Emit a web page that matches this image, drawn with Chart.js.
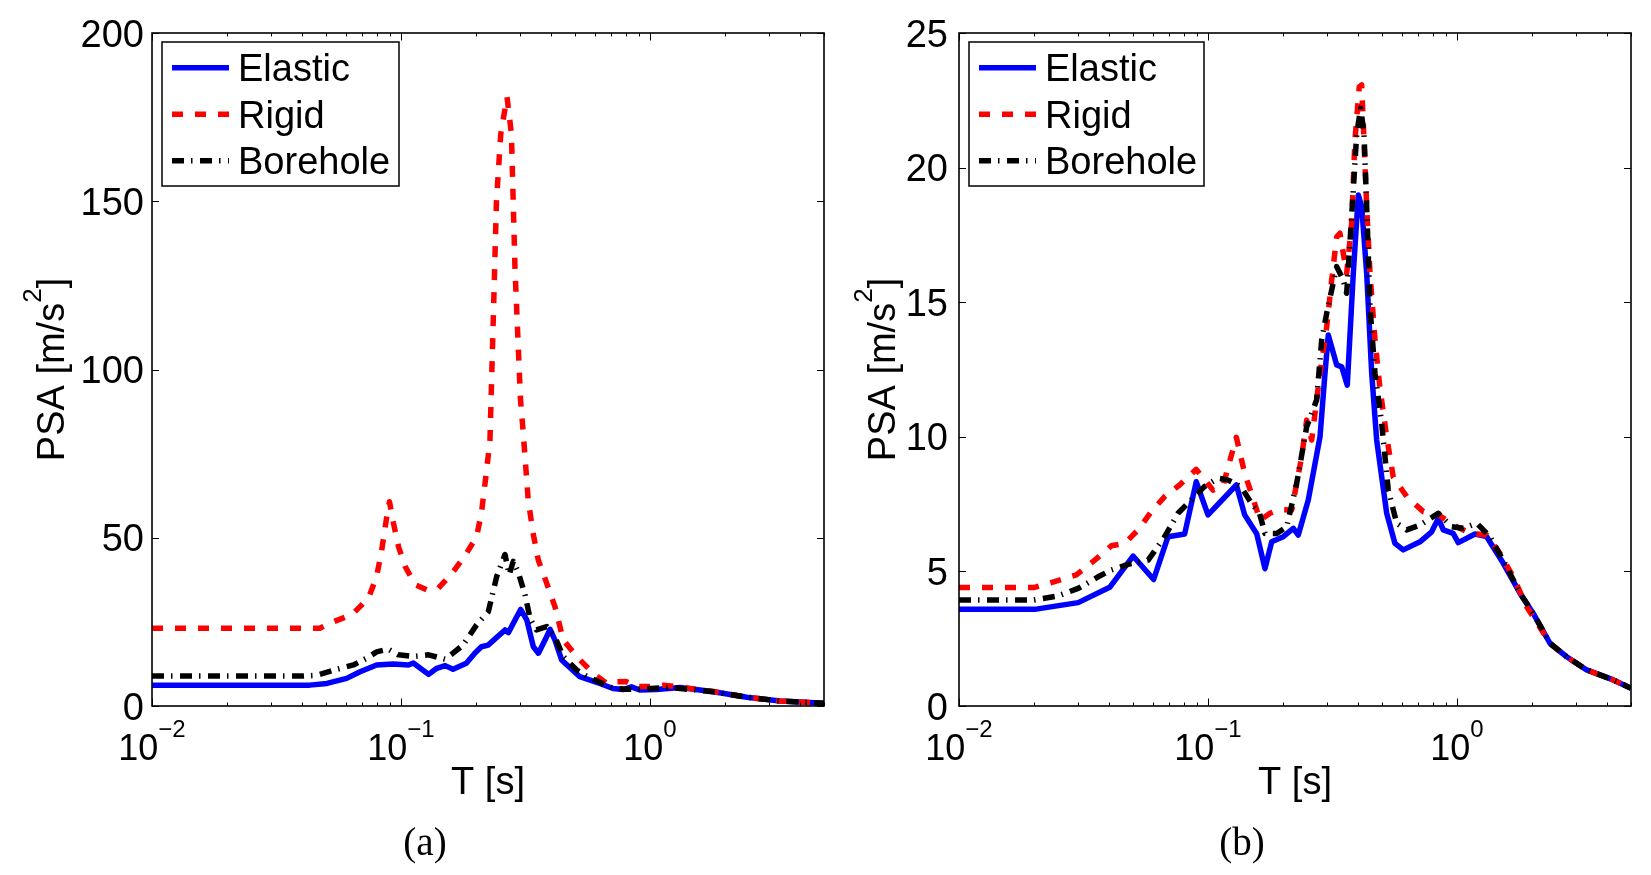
<!DOCTYPE html>
<html>
<head>
<meta charset="utf-8">
<script src="https://cdn.jsdelivr.net/npm/chart.js@4.4.1/dist/chart.umd.min.js"></script>
<style>
  html, body { margin: 0; padding: 0; background: #fff; }
  #wrap { position: relative; width: 1651px; height: 875px; }
  canvas { position: absolute; top: 0; }
  #panelA { left: 0; }
  #panelB { left: 830px; }
</style>
</head>
<body>
<div id="wrap">
  <canvas id="panelA" width="830" height="875"></canvas>
  <canvas id="panelB" width="821" height="875"></canvas>
</div>
<script>
// axis ranges and tick labels
const xMin = 0.01, xMax = 5;
const xMajorTicks = [0.01, 0.1, 1];
const xTickExponents = ['\u22122', '\u22121', '0'];
const yTicksA = [0, 50, 100, 150, 200];
const yTicksB = [0, 5, 10, 15, 20, 25];
const seriesNames = ['Elastic', 'Rigid', 'Borehole'];

// panel (a): period T [s] and PSA [m/s^2]
const aElasticT = [0.01, 0.043, 0.0504, 0.0605, 0.0685, 0.0798, 0.093, 0.1071, 0.1121, 0.1291, 0.1392, 0.1504, 0.1618, 0.183, 0.1979, 0.2104, 0.2242, 0.235, 0.2617, 0.27, 0.2826, 0.3023, 0.32, 0.3401, 0.3564, 0.3789, 0.3967, 0.4154, 0.4418, 0.5227, 0.6286, 0.7107, 0.78, 0.8427, 0.9096, 1.063, 1.322, 1.8, 2.45, 3.33, 5.0];
const aElasticPSA = [6.2, 6.2, 6.7, 8.2, 10.2, 12.2, 12.5, 12.2, 12.8, 9.4, 11.2, 12.0, 10.9, 12.7, 15.7, 17.6, 18.1, 19.5, 22.6, 21.8, 24.6, 28.7, 25.6, 17.6, 15.7, 19.6, 22.8, 19.6, 13.7, 8.7, 6.7, 5.2, 4.9, 5.7, 4.75, 4.9, 5.5, 4.25, 2.6, 1.5, 0.8];

const aRigidT = [0.01, 0.0472, 0.0518, 0.0636, 0.0739, 0.0798, 0.0837, 0.0877, 0.0899, 0.0933, 0.0978, 0.104, 0.1142, 0.127, 0.1413, 0.1595, 0.1805, 0.2012, 0.2104, 0.2203, 0.2277, 0.2358, 0.2418, 0.2516, 0.2666, 0.2777, 0.287, 0.302, 0.3099, 0.3245, 0.34, 0.356, 0.3847, 0.4154, 0.4486, 0.5076, 0.592, 0.67, 0.74, 0.80, 0.88, 1.0, 1.13, 1.35, 1.8, 2.45, 3.33, 5.0];
const aRigidPSA = [23.1, 23.1, 24.6, 27.2, 32, 38.4, 46.4, 56.3, 60.7, 54.3, 47.3, 41.4, 36, 34.5, 35, 39.2, 44.6, 50.3, 57.3, 69.5, 79, 120, 150, 170, 181, 170, 130, 91, 81, 61, 51, 43.4, 36.5, 29.5, 19.6, 14.7, 9.7, 6.7, 7.2, 7.3, 5.8, 5.8, 6.2, 5.5, 4.3, 2.6, 1.5, 0.8];

const aBoreholeT = [0.01, 0.0405, 0.0458, 0.0552, 0.0644, 0.0728, 0.0798, 0.089, 0.0977, 0.1121, 0.1291, 0.1504, 0.1618, 0.1774, 0.2012, 0.2242, 0.2424, 0.2617, 0.272, 0.2826, 0.295, 0.315, 0.33, 0.35, 0.385, 0.415, 0.4486, 0.5076, 0.56, 0.71, 0.80, 0.90, 1.2, 1.8, 2.45, 3.33, 5.0];
const aBoreholePSA = [8.9, 8.9, 9.1, 10.9, 12.2, 14.2, 16.1, 16.9, 15.2, 14.7, 15.2, 13.9, 15.7, 18.1, 24.1, 28, 38.5, 45, 39, 43, 40, 33, 26, 22.6, 23.6, 20.6, 14.7, 10.7, 8.7, 5.3, 5.0, 5.0, 5.5, 4.25, 2.6, 1.5, 0.8];

// panel (b)
const bElasticT = [0.01, 0.0201, 0.0301, 0.0403, 0.05, 0.0605, 0.0691, 0.0806, 0.0897, 0.1, 0.13, 0.1404, 0.1569, 0.1694, 0.1802, 0.2006, 0.2201, 0.2305, 0.2528, 0.2818, 0.2951, 0.3042, 0.3288, 0.3444, 0.3626, 0.3834, 0.4015, 0.4143, 0.4339, 0.4545, 0.4759, 0.5221, 0.5636, 0.6084, 0.7104, 0.7913, 0.8414, 0.881, 0.9663, 1.012, 1.181, 1.316, 1.535, 1.791, 2.025, 2.363, 2.758, 3.318, 4.243, 5.0];
const bElasticPSA = [3.59, 3.59, 3.84, 4.41, 5.57, 4.7, 6.29, 6.39, 8.33, 7.1, 8.21, 7.1, 6.4, 5.1, 6.1, 6.29, 6.6, 6.35, 7.65, 10.0, 12.36, 13.78, 12.67, 12.6, 11.92, 16.07, 18.98, 18.55, 16.07, 12.36, 9.88, 7.16, 6.04, 5.8, 6.1, 6.47, 6.97, 6.54, 6.41, 6.07, 6.39, 6.29, 5.3, 4.19, 3.44, 2.33, 1.83, 1.34, 0.97, 0.66];

const bRigidT = [0.01, 0.02, 0.0242, 0.0296, 0.0351, 0.0409, 0.0463, 0.0524, 0.0592, 0.067, 0.0769, 0.0897, 0.1047, 0.1148, 0.13, 0.1404, 0.1494, 0.1618, 0.1774, 0.1946, 0.2169, 0.2378, 0.2491, 0.2609, 0.2818, 0.2998, 0.3139, 0.3288, 0.3389, 0.3494, 0.3606, 0.3776, 0.3893, 0.4051, 0.4143, 0.4232, 0.4339, 0.4474, 0.4685, 0.4907, 0.5221, 0.5549, 0.6281, 0.7325, 0.8414, 0.9972, 1.128, 1.316, 1.488, 1.683, 1.905, 2.363, 2.758, 3.318, 4.243, 5.0];
const bRigidPSA = [4.4, 4.4, 4.62, 4.87, 5.42, 5.95, 6.04, 6.54, 7.22, 7.78, 8.21, 8.79, 8.02, 8.17, 9.98, 8.64, 7.9, 6.9, 7.16, 7.3, 7.28, 9.26, 10.62, 9.88, 12.36, 14.09, 15.82, 17.43, 17.56, 16.82, 16.07, 17.93, 21.03, 23.0, 23.07, 21.03, 18.55, 16.07, 13.6, 11.8, 10.0, 8.5, 7.78, 7.22, 7.1, 6.66, 6.42, 6.35, 5.67, 4.8, 3.69, 2.33, 1.83, 1.34, 0.97, 0.66];

const bBoreholeT = [0.01, 0.02, 0.025, 0.0301, 0.0362, 0.0409, 0.0477, 0.0575, 0.067, 0.0758, 0.0855, 0.0967, 0.1098, 0.12, 0.1356, 0.1494, 0.161, 0.1694, 0.1888, 0.2071, 0.2271, 0.2491, 0.2732, 0.2862, 0.2998, 0.3288, 0.3494, 0.3606, 0.3834, 0.3957, 0.4106, 0.4232, 0.4339, 0.4474, 0.4685, 0.4985, 0.5298, 0.5727, 0.6281, 0.7104, 0.8414, 0.9522, 1.06, 1.2, 1.357, 1.584, 1.791, 2.025, 2.363, 2.758, 3.318, 4.243, 5.0];
const bBoreholePSA = [3.94, 3.94, 4.09, 4.37, 4.8, 5.05, 5.26, 5.42, 6.29, 7.16, 7.65, 8.15, 8.46, 8.4, 8.15, 7.53, 7.16, 6.41, 6.41, 6.66, 8.27, 10.37, 11.37, 13.6, 14.59, 16.32, 15.82, 15.33, 19.17, 21.27, 22.2, 21.27, 18.55, 14.83, 12.36, 10.5, 8.02, 6.79, 6.54, 6.72, 7.16, 6.66, 6.6, 6.79, 6.29, 5.17, 4.19, 3.44, 2.33, 1.83, 1.34, 0.97, 0.66];

const SANS = '"Liberation Sans", Arial, Helvetica, sans-serif';
const SERIF = '"Liberation Serif", "Times New Roman", serif';

const styles = [
  { color: '#0000ff', dash: [] },
  { color: '#ff0000', dash: [11, 12] },
  { color: '#000000', dash: [12, 7, 1.5, 7.5] }
];

function pts(t, v) {
  return t.map((x, i) => ({ x: x, y: v[i] }));
}

// MATLAB-like box, inward ticks, labels, legend and caption
const matlabFrame = {
  id: 'matlabFrame',
  afterDraw(chart, args, o) {
    const ctx = chart.ctx;
    const a = chart.chartArea;
    const xs = chart.scales.x, ys = chart.scales.y;
    ctx.save();
    ctx.setLineDash([]);
    ctx.strokeStyle = '#000';
    ctx.fillStyle = '#000';

    // ticks
    ctx.beginPath();
    for (const d of xMajorTicks) {
      for (let k = 1; k <= 9; k++) {
        const v = d * k;
        if (v > xMax + 1e-9) break;
        const px = Math.round(xs.getPixelForValue(v)) + 0.5;
        const len = k === 1 ? 7.5 : 3.5;
        ctx.moveTo(px, a.bottom); ctx.lineTo(px, a.bottom - len);
        ctx.moveTo(px, a.top); ctx.lineTo(px, a.top + len);
      }
    }
    for (const v of o.yTicks) {
      const py = Math.round(ys.getPixelForValue(v)) + 0.5;
      ctx.moveTo(a.left, py); ctx.lineTo(a.left + 7, py);
      ctx.moveTo(a.right, py); ctx.lineTo(a.right - 7, py);
    }
    ctx.lineWidth = 1;
    ctx.stroke();
    ctx.lineWidth = 1.6;
    ctx.strokeRect(a.left, a.top, a.right - a.left, a.bottom - a.top);

    // y tick labels
    ctx.font = '38px ' + SANS;
    ctx.textAlign = 'right';
    ctx.textBaseline = 'alphabetic';
    for (const v of o.yTicks) {
      const py = ys.getPixelForValue(v);
      ctx.fillText(String(v), a.left - o.yLabelGap, py + 13.5);
    }

    // x tick labels 10^n
    ctx.textAlign = 'left';
    xMajorTicks.forEach((v, i) => {
      const px = xs.getPixelForValue(v);
      ctx.font = '36px ' + SANS;
      const w1 = ctx.measureText('10').width;
      ctx.font = '24px ' + SANS;
      const w2 = ctx.measureText(xTickExponents[i]).width;
      const x0 = px - (w1 + w2) / 2;
      ctx.font = '36px ' + SANS;
      ctx.fillText('10', x0, 760);
      ctx.font = '24px ' + SANS;
      ctx.fillText(xTickExponents[i], x0 + w1, 737);
    });

    // x title
    ctx.font = '38px ' + SANS;
    ctx.textAlign = 'center';
    ctx.fillText('T [s]', (a.left + a.right) / 2, 794);

    // y title with superscript
    ctx.save();
    ctx.translate(o.yTitleX, (a.top + a.bottom) / 2);
    ctx.rotate(-Math.PI / 2);
    ctx.textAlign = 'left';
    ctx.font = '38px ' + SANS;
    const t1 = 'PSA [m/s', t3 = ']';
    const w1 = ctx.measureText(t1).width, w3 = ctx.measureText(t3).width;
    ctx.font = '26px ' + SANS;
    const w2 = ctx.measureText('2').width;
    let sx = -(w1 + w2 + w3) / 2;
    ctx.font = '38px ' + SANS;
    ctx.fillText(t1, sx, 0);
    ctx.fillText(t3, sx + w1 + w2, 0);
    ctx.font = '26px ' + SANS;
    ctx.fillText('2', sx + w1, -23);
    ctx.restore();

    // caption
    ctx.font = '39px ' + SERIF;
    ctx.textAlign = 'center';
    ctx.fillText(o.caption, o.captionX, 855);

    // legend
    const lx = a.left + 10, ly = a.top + 9, lw = o.legendWidth, lh = 144;
    ctx.fillStyle = '#fff';
    ctx.fillRect(lx, ly, lw, lh);
    ctx.lineWidth = 1.5;
    ctx.strokeRect(lx, ly, lw, lh);
    ctx.font = '38px ' + SANS;
    ctx.textAlign = 'left';
    seriesNames.forEach((name, i) => {
      const ry = ly + 25.7 + i * 46.5;
      ctx.beginPath();
      ctx.setLineDash(styles[i].dash);
      ctx.strokeStyle = styles[i].color;
      ctx.lineWidth = 5.5;
      ctx.lineCap = 'butt';
      ctx.moveTo(lx + 10, ry);
      ctx.lineTo(lx + 67, ry);
      ctx.stroke();
      ctx.setLineDash([]);
      ctx.fillStyle = '#000';
      ctx.fillText(name, lx + 76, ry + 13.5);
    });
    ctx.restore();
  }
};

function makePanel(id, yMax, yTicks, series, o) {
  const datasets = series.map((s, i) => ({
    label: seriesNames[i],
    data: pts(s[0], s[1]),
    borderColor: styles[i].color,
    borderDash: styles[i].dash,
    borderWidth: 5.5,
    borderCapStyle: 'butt',
    borderJoinStyle: 'round',
    pointRadius: 0,
    tension: 0,
    fill: false,
    order: 2 - i
  }));
  return new Chart(document.getElementById(id), {
    type: 'line',
    data: { datasets },
    plugins: [matlabFrame],
    options: {
      responsive: false,
      animation: false,
      devicePixelRatio: 1,
      layout: { padding: { left: 0, right: o.padRight, top: 33, bottom: 0 } },
      plugins: {
        legend: { display: false },
        tooltip: { enabled: false },
        matlabFrame: Object.assign({ yTicks }, o)
      },
      scales: {
        x: {
          type: 'logarithmic',
          min: xMin,
          max: xMax,
          grid: { display: false },
          border: { display: false },
          ticks: { display: false },
          afterFit: (s) => { s.height = 169; }
        },
        y: {
          type: 'linear',
          min: 0,
          max: yMax,
          grid: { display: false },
          border: { display: false },
          ticks: { display: false },
          afterFit: (s) => { s.width = o.plotLeft; }
        }
      }
    }
  });
}

makePanel('panelA', 200, yTicksA,
  [[aElasticT, aElasticPSA], [aRigidT, aRigidPSA], [aBoreholeT, aBoreholePSA]],
  { plotLeft: 152, padRight: 6, yLabelGap: 8, yTitleX: 64, caption: '(a)', captionX: 425, legendWidth: 237 });

makePanel('panelB', 25, yTicksB,
  [[bElasticT, bElasticPSA], [bRigidT, bRigidPSA], [bBoreholeT, bBoreholePSA]],
  { plotLeft: 129, padRight: 20, yLabelGap: 11, yTitleX: 65, caption: '(b)', captionX: 412, legendWidth: 235 });
</script>
</body>
</html>
